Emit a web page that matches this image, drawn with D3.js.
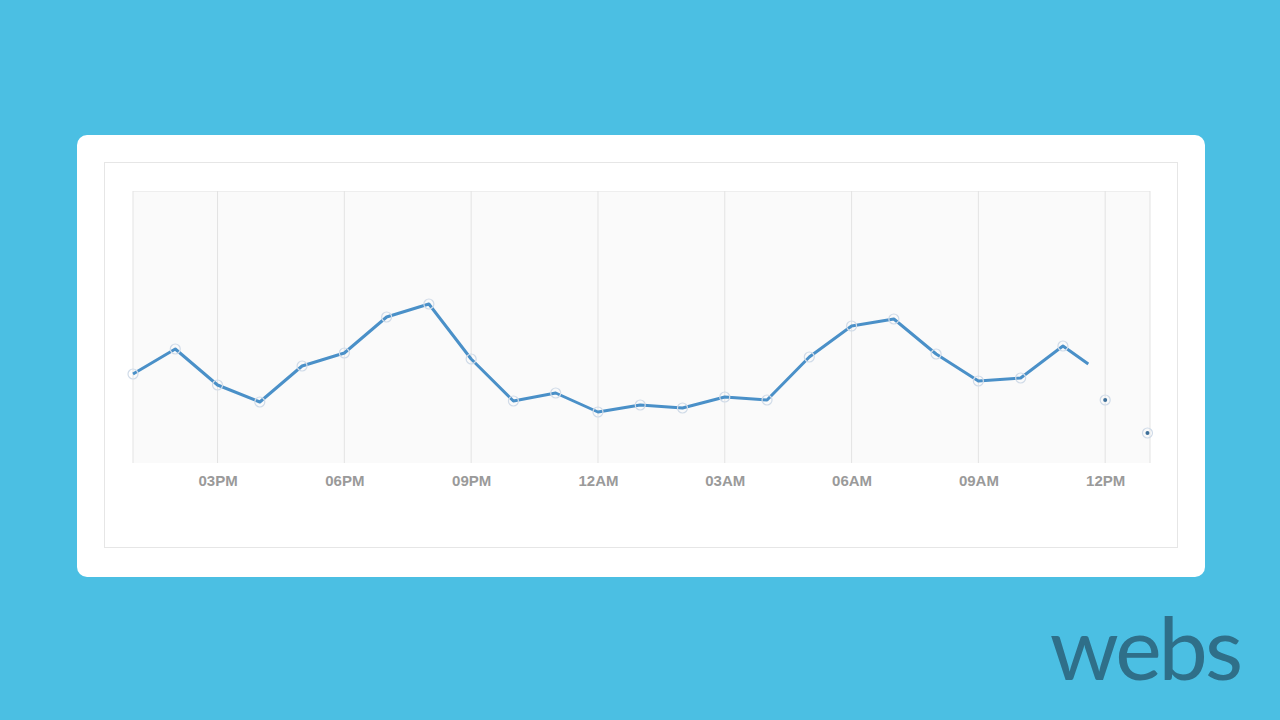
<!DOCTYPE html><html><head><meta charset="utf-8">
<script src="https://cdn.jsdelivr.net/npm/d3@7"></script>
<style>body{margin:0;background:#4bbfe3;}svg{display:block}</style></head><body>
<svg id="c" width="1280" height="720"></svg>
<script>
const hours = d3.range(0,25); // hours after 1PM
const values = [89,114,78,61,97,110,146,159,104,62,70,51,58,55,66,63,106,137,144,109,82,85,117,63,30];
const partialEnd = {h:22.6, v:99};
const tickHours = [2,5,8,11,14,17,20,23];
const tickLabels = ["03PM","06PM","09PM","12AM","03AM","06AM","09AM","12PM"];
const svg = d3.select("#c");
svg.append("rect").attr("x",77).attr("y",135).attr("width",1128).attr("height",442).attr("rx",10).attr("fill","#fff");
svg.append("rect").attr("x",104.5).attr("y",162.5).attr("width",1073).attr("height",385).attr("fill","#fff").attr("stroke","#e6e6e6");
const x = d3.scaleLinear().domain([0,24.06]).range([133,1150]);
const y = d3.scaleLinear().domain([0,272]).range([463,191]);
svg.append("rect").attr("x",133).attr("y",191).attr("width",1017).attr("height",272).attr("fill","#fafafa");
svg.append("line").attr("x1",133).attr("x2",1150).attr("y1",191.5).attr("y2",191.5).attr("stroke","#eee");
const g = svg.append("g");
[0,...tickHours,24.06].forEach(h=>g.append("line").attr("x1",x(h)).attr("x2",x(h)).attr("y1",191).attr("y2",463).attr("stroke","#e3e3e3"));
const ax = svg.append("g").attr("transform","translate(0,463)").call(d3.axisBottom(x).tickValues(tickHours).tickFormat((d,i)=>tickLabels[i]).tickSize(0).tickPadding(12));
ax.select(".domain").remove();
ax.selectAll("text").attr("font-family","Liberation Sans, Arial").attr("font-weight","bold").attr("font-size",15).attr("fill","#9a9a9a");
const pts = hours.slice(0,23).map(h=>({h,v:values[h]})).concat([partialEnd]);
svg.append("path").datum(pts).attr("fill","none").attr("stroke","#4a90c8").attr("stroke-width",3).attr("stroke-linejoin","round")
 .attr("d",d3.line().x(d=>x(d.h)).y(d=>y(d.v)));
hours.forEach(h=>{
  svg.append("circle").attr("cx",x(h)).attr("cy",y(values[h])).attr("r",5).attr("fill","none").attr("stroke","#d0dbe8").attr("stroke-width",1.2);
});
[23,24].forEach(h=>svg.append("circle").attr("cx",x(h)).attr("cy",y(values[h])).attr("r",2).attr("fill","#3d6f99"));
svg.append("text").attr("x",1240).attr("y",680).attr("text-anchor","end").attr("font-family","Lato").attr("font-weight",400).attr("font-size",88).attr("fill","#2f6f89").attr("letter-spacing",-3).text("webs");
</script></body></html>
